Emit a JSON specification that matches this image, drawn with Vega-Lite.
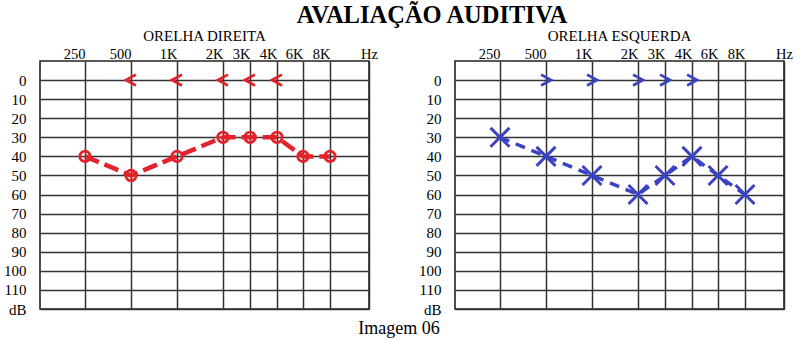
{
  "$schema": "https://vega.github.io/schema/vega-lite/v6.json",
  "padding": {"left": 2, "top": 2, "right": 5, "bottom": 0},
  "background": "white",
  "title": {"text": "AVALIAÇÃO AUDITIVA", "font": "Liberation Serif", "fontSize": 24.5, "fontWeight": "bold", "color": "black", "anchor": "middle", "offset": 0, "dx": 34},
  "datasets": {
    "right_air": [
      {"freq": 250, "db": 40}, {"freq": 500, "db": 50}, {"freq": 1000, "db": 40}, {"freq": 2000, "db": 30},
      {"freq": 3000, "db": 30}, {"freq": 4000, "db": 30}, {"freq": 6000, "db": 40}, {"freq": 8000, "db": 40}
    ],
    "right_bone": [
      {"freq": 500, "db": 0}, {"freq": 1000, "db": 0}, {"freq": 2000, "db": 0}, {"freq": 3000, "db": 0}, {"freq": 4000, "db": 0}
    ],
    "left_air": [
      {"freq": 250, "db": 30}, {"freq": 500, "db": 40}, {"freq": 1000, "db": 50}, {"freq": 2000, "db": 60},
      {"freq": 3000, "db": 50}, {"freq": 4000, "db": 40}, {"freq": 6000, "db": 50}, {"freq": 8000, "db": 60}
    ],
    "left_bone": [
      {"freq": 500, "db": 0}, {"freq": 1000, "db": 0}, {"freq": 2000, "db": 0}, {"freq": 3000, "db": 0}, {"freq": 4000, "db": 0}
    ]
  },
  "config": {
    "view": {"stroke": "#222", "strokeWidth": 1.6},
    "axis": {"labelFont": "Liberation Serif", "labelColor": "black", "grid": true, "gridColor": "#333", "gridWidth": 1.5, "gridOpacity": 1, "ticks": false, "domain": false, "title": null, "labelOverlap": false, "labelFlush": false},
    "title": {"font": "Liberation Serif", "color": "black"}
  },
  "vconcat": [
    {
      "title": {"text": "Imagem 06", "orient": "bottom", "font": "Liberation Serif", "fontSize": 18, "fontWeight": "normal", "color": "black", "anchor": "middle", "offset": 2, "dx": 1},
      "spacing": 38,
      "hconcat": [
        {
          "width": 329, "height": 248,
          "title": {"text": "ORELHA DIREITA", "font": "Liberation Serif", "fontSize": 15, "fontWeight": "normal", "color": "black", "offset": 2},
          "encoding": {
            "x": {"field": "freq", "type": "quantitative",
              "scale": {"type": "linear", "domain": [125, 250, 500, 1000, 2000, 3000, 4000, 6000, 8000, 12000], "range": [0, 45, 91, 137, 183, 210, 237, 263, 290, 329], "nice": false, "zero": false},
              "axis": {"orient": "top", "values": [250, 500, 1000, 2000, 3000, 4000, 6000, 8000, 12000],
                "labelExpr": "datum.value == 12000 ? 'Hz' : (datum.value >= 1000 ? (datum.value / 1000) + 'K' : '' + datum.value)",
                "labelAlign": {"condition": {"test": "datum.value == 12000", "value": "center"}, "value": "right"},
                "labelFont": "Liberation Serif", "labelBaseline": "alphabetic", "labelFontSize": 14.5, "labelPadding": 3, "labelBound": false}},
            "y": {"field": "db", "type": "quantitative",
              "scale": {"domain": [-10, 120], "reverse": true, "nice": false, "zero": false},
              "axis": {"values": [0, 10, 20, 30, 40, 50, 60, 70, 80, 90, 100, 110, 120],
                "labelExpr": "datum.value == 120 ? 'dB' : '' + datum.value",
                "labelFont": "Liberation Serif", "labelFontSize": 15, "labelPadding": 14}}
          },
          "layer": [
            {"data": {"name": "right_air"}, "mark": {"type": "line", "color": "#e3232b", "strokeWidth": 4.5, "strokeDash": [15, 6]}},
            {"data": {"name": "right_air"}, "mark": {"type": "point", "shape": "circle", "filled": false, "color": "#e3232b", "strokeWidth": 2.8, "size": 110, "opacity": 1}},
            {"data": {"name": "right_bone"}, "mark": {"type": "point", "shape": "M 0.9 -1 L -0.9 0 L 0.9 1", "filled": false, "color": "#e3232b", "strokeWidth": 2.8, "size": 120, "opacity": 1}}
          ]
        },
        {
          "width": 329, "height": 248,
          "title": {"text": "ORELHA ESQUERDA", "font": "Liberation Serif", "fontSize": 15, "fontWeight": "normal", "color": "black", "offset": 2},
          "encoding": {
            "x": {"field": "freq", "type": "quantitative",
              "scale": {"type": "linear", "domain": [125, 250, 500, 1000, 2000, 3000, 4000, 6000, 8000, 12000], "range": [0, 45, 91, 137, 183, 210, 237, 263, 290, 329], "nice": false, "zero": false},
              "axis": {"orient": "top", "values": [250, 500, 1000, 2000, 3000, 4000, 6000, 8000, 12000],
                "labelExpr": "datum.value == 12000 ? 'Hz' : (datum.value >= 1000 ? (datum.value / 1000) + 'K' : '' + datum.value)",
                "labelAlign": {"condition": {"test": "datum.value == 12000", "value": "center"}, "value": "right"},
                "labelFont": "Liberation Serif", "labelBaseline": "alphabetic", "labelFontSize": 14.5, "labelPadding": 3, "labelBound": false}},
            "y": {"field": "db", "type": "quantitative",
              "scale": {"domain": [-10, 120], "reverse": true, "nice": false, "zero": false},
              "axis": {"values": [0, 10, 20, 30, 40, 50, 60, 70, 80, 90, 100, 110, 120],
                "labelExpr": "datum.value == 120 ? 'dB' : '' + datum.value",
                "labelFont": "Liberation Serif", "labelFontSize": 15, "labelPadding": 14}}
          },
          "layer": [
            {"data": {"name": "left_air"}, "mark": {"type": "line", "color": "#3b43c2", "strokeWidth": 3.5, "strokeDash": [10, 7]}},
            {"data": {"name": "left_air"}, "mark": {"type": "point", "shape": "M -1 -1 L 1 1 M -1 1 L 1 -1", "filled": false, "color": "#3b43c2", "strokeWidth": 3, "size": 360, "opacity": 1}},
            {"data": {"name": "left_bone"}, "mark": {"type": "point", "shape": "M -0.9 -1 L 0.9 0 L -0.9 1", "filled": false, "color": "#3b43c2", "strokeWidth": 2.8, "size": 120, "opacity": 1}}
          ]
        }
      ]
    }
  ]
}
